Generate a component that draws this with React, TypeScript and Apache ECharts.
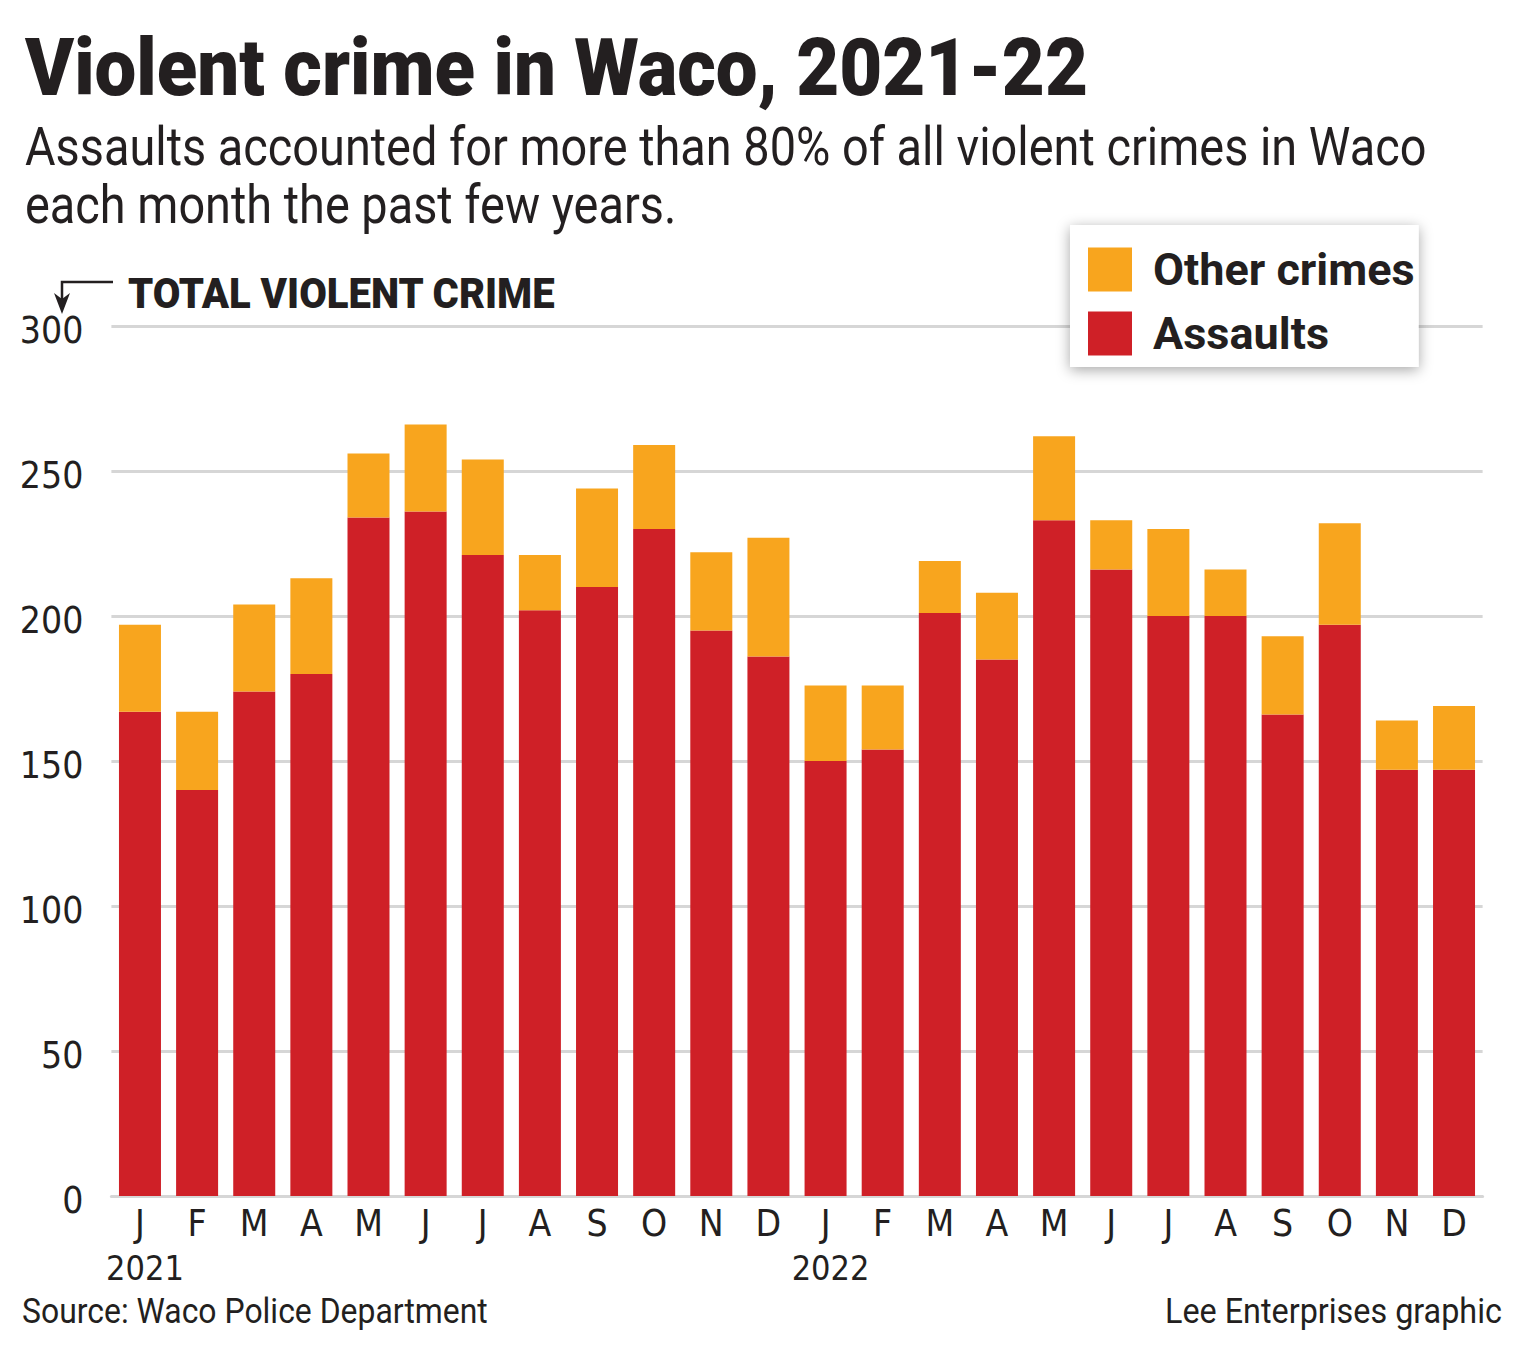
import React, { useEffect, useRef } from "react";
import * as echarts from "echarts";

// Monthly violent crime counts, Jan 2021 – Dec 2022
const months = ["J", "F", "M", "A", "M", "J", "J", "A", "S", "O", "N", "D", "J", "F", "M", "A", "M", "J", "J", "A", "S", "O", "N", "D"];
const yearLabels: Record<number, string> = { 0: "2021", 12: "2022" };
const assaults = [167, 140, 174, 180, 234, 236, 221, 202, 210, 230, 195, 186, 150, 154, 201, 185, 233, 216, 200, 200, 166, 197, 147, 147];
const otherCrimes = [30, 27, 30, 33, 22, 30, 33, 19, 34, 29, 27, 41, 26, 22, 18, 23, 29, 17, 30, 16, 27, 35, 17, 22];
const yTicks = { min: 0, max: 300, interval: 50 };

const RED = "#CF2027";
const ORANGE = "#F8A51E";
const INK = "#231F20";
const GRID = "#D6D6D6";
const NARROW = "'Liberation Sans Narrow', 'DejaVu Sans Condensed', 'Roboto', sans-serif";
const WIDE = "Roboto, 'Open Sans', sans-serif";

// canvas text measurement, used to squeeze headline text to a condensed width
const measureCtx = document.createElement("canvas").getContext("2d")!;
function measure(text: string, size: number, weight: number | string, family: string) {
  measureCtx.font = `${weight} ${size}px ${family}`;
  return measureCtx.measureText(text).width;
}

function fitText(
  text: string,
  x: number,
  y: number,
  width: number,
  size: number,
  weight: number | string,
  family: string,
  align: "left" | "right" = "left",
  fill = INK
) {
  const w = measure(text, size, weight, family);
  const s = width / w;
  return {
    type: "text",
    x: align === "right" ? x - width : x,
    y,
    scaleX: s,
    z: 10,
    style: {
      text,
      x: 0,
      y: 0,
      fontSize: size,
      fontWeight: weight,
      fontFamily: family,
      fill,
      align: "left",
      verticalAlign: "middle",
    },
  };
}

export default function App() {
  const ref = useRef<HTMLDivElement>(null);

  useEffect(() => {
    if (!ref.current) return;
    const chart = echarts.init(ref.current, undefined, { renderer: "svg" });

    const subtitleScaleSrc = "Assaults accounted for more than 80% of all violent crimes in Waco";
    const subSize = 54;
    const subScale = 1402 / measure(subtitleScaleSrc, subSize, 400, WIDE);
    const line2 = "each month the past few years.";
    const line2W = measure(line2, subSize, 400, WIDE) * subScale;

    // legend box is 348px wide; right padding takes up whatever the text leaves
    const legendSize = 45;
    const legendTextW = measure("Other crimes", legendSize, "bold", WIDE);
    const legendPadR = Math.max(4, 348 - 18 - 44 - 5 - 16 - legendTextW);

    chart.setOption({
      animation: false,
      backgroundColor: "#ffffff",
      grid: { left: 111.4, right: 42.4, top: 326, bottom: 164 },
      legend: {
        data: ["Other crimes", "Assaults"],
        orient: "vertical",
        left: 1070,
        top: 225,
        padding: [22, legendPadR, 11, 18],
        itemGap: 19,
        itemWidth: 44,
        itemHeight: 44,
        icon: "rect",
        backgroundColor: "#ffffff",
        shadowBlur: 14,
        shadowColor: "rgba(0,0,0,0.35)",
        shadowOffsetY: 3,
        selectedMode: false,
        textStyle: {
          fontFamily: WIDE,
          fontWeight: "bold",
          fontSize: legendSize,
          lineHeight: 44,
          color: INK,
          padding: [0, 0, 0, 16],
        },
      },
      xAxis: {
        type: "category",
        data: months,
        axisTick: { show: false },
        axisLine: { show: true, lineStyle: { color: GRID, width: 3 } },
        axisLabel: {
          margin: 5,
          interval: 0,
          formatter: (v: string, i: number) =>
            yearLabels[i] ? `{m|${v}}\n{y|${yearLabels[i]}}` : `{m|${v}}`,
          rich: {
            m: { fontFamily: NARROW, fontSize: 37, color: INK, lineHeight: 44 },
            y: { fontFamily: NARROW, fontSize: 34, color: INK, lineHeight: 46, padding: [0, 0, 0, 10] },
          },
        },
      },
      yAxis: {
        type: "value",
        min: yTicks.min,
        max: yTicks.max,
        interval: yTicks.interval,
        axisLine: { show: false },
        axisTick: { show: false },
        splitLine: { lineStyle: { color: GRID, width: 3 } },
        axisLabel: {
          margin: 28,
          formatter: "{v|{value}}",
          rich: {
            v: { fontFamily: NARROW, fontSize: 37, color: INK, padding: [9, 0, 0, 0] },
          },
        },
      },
      series: [
        {
          name: "Assaults",
          type: "bar",
          stack: "total",
          barWidth: 42,
          data: assaults,
          itemStyle: { color: RED },
        },
        {
          name: "Other crimes",
          type: "bar",
          stack: "total",
          barWidth: 42,
          data: otherCrimes,
          itemStyle: { color: ORANGE },
        },
      ],
      graphic: [
        fitText("Violent crime in Waco, 2021-22", 25, 68, 1063, 80, 900, WIDE),
        fitText(subtitleScaleSrc, 25, 146, 1402, subSize, 400, WIDE),
        fitText(line2, 25, 204, line2W, subSize, 400, WIDE),
        fitText("TOTAL VIOLENT CRIME", 128, 294, 428, 42, 900, WIDE),
        fitText("Source: Waco Police Department", 22, 1311, 466, 35, 400, WIDE),
        fitText("Lee Enterprises graphic", 1502, 1311, 337, 35, 400, WIDE, "right"),
        {
          type: "polyline",
          z: 10,
          shape: { points: [[113, 282], [62, 282], [62, 300]] },
          style: { stroke: INK, lineWidth: 2.5, fill: null },
        },
        {
          type: "polygon",
          z: 10,
          shape: { points: [[54, 293], [62, 299], [70, 293], [62, 314]] },
          style: { fill: INK },
        },
      ],
    });

    return () => chart.dispose();
  }, []);

  return (
    <div
      ref={ref}
      style={{ position: "absolute", left: 0, top: 0, width: 1525, height: 1360, background: "#fff" }}
    />
  );
}
